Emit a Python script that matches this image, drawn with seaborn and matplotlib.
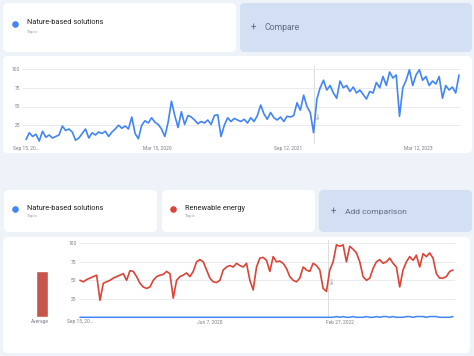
import pandas as pd
import seaborn as sns
import matplotlib.pyplot as plt
import matplotlib.dates as mdates
from matplotlib.patches import FancyBboxPatch

# Interest over time, Nature-based solutions alone (roughly every two weeks)
nbs_interest = [
    6, 15, 10, 13, 4, 17, 9, 12, 8, 10, 12, 24, 18, 20, 16, 5, 8, 14, 20, 8,
    15, 12, 16, 14, 17, 10, 16, 20, 25, 21, 24, 20, 36, 14, 7, 25, 31, 28, 35, 29,
    26, 20, 10, 29, 57, 38, 22, 43, 26, 38, 36, 32, 27, 30, 28, 32, 26, 38, 39, 10,
    25, 35, 30, 34, 32, 30, 33, 28, 35, 30, 38, 52, 40, 33, 42, 35, 32, 36, 30, 37,
    36, 38, 55, 45, 65, 50, 42, 15, 60, 75, 85, 72, 78, 68, 61, 84, 75, 78, 70, 76,
    68, 72, 66, 60, 70, 68, 82, 75, 90, 78, 96, 88, 92, 37, 75, 85, 99, 78, 92, 99,
    85, 90, 78, 84, 80, 90, 61, 78, 72, 76, 68, 92,
]

# Comparison chart
renewable_interest = [
    50, 48, 51, 53, 55, 57, 23, 46, 48, 50, 53, 55, 57, 59, 50, 63, 62, 55, 46, 41,
    39, 41, 50, 55, 57, 58, 62, 59, 26, 50, 55, 57, 60, 55, 62, 75, 78, 75, 64, 53,
    48, 47, 50, 64, 68, 70, 68, 73, 70, 68, 73, 50, 37, 68, 80, 81, 77, 62, 82, 75,
    76, 73, 66, 55, 50, 48, 53, 68, 64, 62, 73, 70, 64, 39, 35, 64, 75, 98, 96, 98,
    75, 96, 92, 87, 75, 55, 50, 53, 66, 75, 78, 73, 75, 80, 73, 68, 41, 64, 75, 82,
    77, 84, 68, 86, 82, 87, 80, 59, 53, 53, 55, 62, 64,
]
nbs_vs_renewable = [
    0, 0, 0, 0, 0, 0, 0, 0, 0, 0, 0, 0, 0, 0, 0, 0, 0, 0, 0, 0,
    0, 0, 0, 0, 0, 0, 0, 0, 0, 0, 0, 0, 0, 0, 0, 0, 0, 0, 0, 0,
    0, 0, 0, 0, 0, 0, 0, 0, 0, 0, 0, 0, 0, 0, 0, 0, 0, 0, 0, 0,
    0, 0, 0, 0, 0, 0, 0, 0, 0, 0, 0, 0, 0, 0, 0, 0, 0, 1, 0, 1,
    0, 0, 1, 0, 0, 0, 1, 0, 0, 1, 0, 1, 1, 0, 1, 0, 0, 0, 1, 1,
    0, 1, 1, 1, 0, 1, 1, 1, 0, 0, 0, 0, 1,
]
avg_terms = ["Nature-based solutions", "Renewable energy"]
avg_values = [0.4, 62]

top_ticks = ["2018-09-16", "2020-03-15", "2021-09-12", "2023-03-12"]
top_labels = ["Sep 15, 20...", "Mar 15, 2020", "Sep 12, 2021", "Mar 12, 2023"]
bot_ticks = ["2018-09-16", "2020-06-07", "2022-02-27"]
bot_labels = ["Sep 15, 20...", "Jun 7, 2020", "Feb 27, 2022"]
note_date = "2022-01-01"

BLUE = "#4285f4"
RED = "#db4437"
GRID = "#e6e8ec"
TICK = "#7a7f86"
BG = "#eef2f9"
W, H = 474, 356

sns.set_theme(style="white")
plt.rcParams["font.family"] = ["Roboto", "DejaVu Sans"]

fig = plt.figure(figsize=(W / 100, H / 100), dpi=100)
fig.patch.set_facecolor(BG)


def px_axes(x0, y0, x1, y1, **kw):
    return fig.add_axes([x0 / W, 1 - y1 / H, (x1 - x0) / W, (y1 - y0) / H], **kw)


# background layer with the cards
bg = px_axes(0, 0, W, H)
bg.set_xlim(0, W)
bg.set_ylim(H, 0)
bg.axis("off")


def card(x0, y0, x1, y1, color):
    bg.add_patch(FancyBboxPatch((x0, y0), x1 - x0, y1 - y0,
                                boxstyle="round,pad=0,rounding_size=5",
                                fc=color, ec="none"))


card(3, 3, 236, 52, "white")
card(240, 3, 472, 52, "#d3dff2")
card(3, 56, 472, 153, "white")
card(4, 190, 157, 232, "white")
card(162, 190, 315, 232, "white")
card(319, 190, 472, 232, "#d3dff2")
card(3, 237, 470, 353, "white")

bg.scatter([15], [24], s=14, color=BLUE)
bg.text(27, 23, "Nature-based solutions", fontsize=5.3, color="#202124", va="center")
bg.text(27, 32.5, "Topic", fontsize=3.2, color="#9aa0a6", va="center")
bg.text(251, 28, "+", fontsize=7, color="#5f6b80", va="center")
bg.text(265, 28, "Compare", fontsize=6.2, color="#5f6b80", va="center")

bg.scatter([15], [209], s=14, color=BLUE)
bg.text(27, 209, "Nature-based solutions", fontsize=5.3, color="#202124", va="center")
bg.text(27, 216.5, "Topic", fontsize=3.2, color="#9aa0a6", va="center")
bg.scatter([173], [209], s=14, color=RED)
bg.text(185, 209, "Renewable energy", fontsize=5.3, color="#202124", va="center")
bg.text(185, 216.5, "Topic", fontsize=3.2, color="#9aa0a6", va="center")
bg.text(331, 212, "+", fontsize=7, color="#5f6b80", va="center")
bg.text(345, 212, "Add comparison", fontsize=6, color="#5f6b80", va="center")


def style_trend(ax, dates, x_first, x_last, x_left, x_right, ticks, labels):
    d0, d1 = mdates.date2num(dates[0]), mdates.date2num(dates[-1])
    per_px = (d1 - d0) / (x_last - x_first)
    ax.set_xlim(d0 - (x_first - x_left) * per_px, d1 + (x_right - x_last) * per_px)
    ax.set_facecolor("none")
    ax.set_yticks([0, 25, 50, 75, 100])
    ax.set_yticklabels(["", "25", "50", "75", "100"])
    ax.grid(axis="y", color=GRID, linewidth=0.6)
    ax.set_xticks(pd.to_datetime(ticks))
    ax.set_xticklabels(labels)
    ax.tick_params(axis="both", labelsize=3.5, labelcolor=TICK, length=0, pad=1.5)
    ax.set_xlabel("")
    ax.set_ylabel("")
    for s in ax.spines.values():
        s.set_visible(False)
    ax.axvline(pd.Timestamp(note_date), color="#d5d8dc", linewidth=0.6, zorder=0)


# chart 1: Nature-based solutions alone
ax1 = px_axes(22, 66, 461, 144)
dates1 = pd.date_range("2018-09-16", "2023-08-27", periods=len(nbs_interest))
sns.lineplot(x=dates1, y=nbs_interest, ax=ax1, color=BLUE, linewidth=1.2)
ax1.set_ylim(0, 104)
style_trend(ax1, dates1, 26, 459, 22, 461, top_ticks, top_labels)
ax1.axhline(0, color="#d5d8dc", linewidth=0.6, zorder=0)
ax1.text(pd.Timestamp("2022-01-20"), 38, "Note", fontsize=2.3, color="#9aa0a6",
         rotation=90, ha="center", va="center")

# chart 2: comparison
ax2 = px_axes(80, 240, 455, 317.3)
dates2 = pd.date_range("2018-09-16", "2023-08-27", periods=len(renewable_interest))
sns.lineplot(x=dates2, y=nbs_vs_renewable, ax=ax2, color=BLUE, linewidth=1.1)
sns.lineplot(x=dates2, y=renewable_interest, ax=ax2, color=RED, linewidth=1.2)
ax2.set_ylim(0, 104.5)
style_trend(ax2, dates2, 80, 453, 80, 455, bot_ticks, bot_labels)
ax2.yaxis.set_tick_params(pad=2.5)
for ln in ax2.lines[:2]:
    ln.set_clip_on(False)
ax2.text(pd.Timestamp("2022-01-20"), 50, "Note", fontsize=2.3, color="#9aa0a6",
         rotation=90, ha="center", va="center")

# average bars
ax3 = px_axes(12, 240, 57, 317.3)
sns.barplot(x=avg_terms, y=avg_values, hue=avg_terms, palette=[BLUE, RED],
            ax=ax3, width=0.6, legend=False)
ax3.set_xlim(-0.5, 1.75)
ax3.set_ylim(0, 104.5)
ax3.set_facecolor("none")
ax3.set_xticks([])
ax3.set_yticks([])
ax3.set_xlabel("")
ax3.set_ylabel("")
for s in ax3.spines.values():
    s.set_visible(False)
ax3.axhline(0, color="#c9ccd1", linewidth=0.6)
bg.text(40, 322, "Average", fontsize=3.5, color=TICK, ha="center", va="center")

fig.savefig("out.png", dpi=100, facecolor=BG)
